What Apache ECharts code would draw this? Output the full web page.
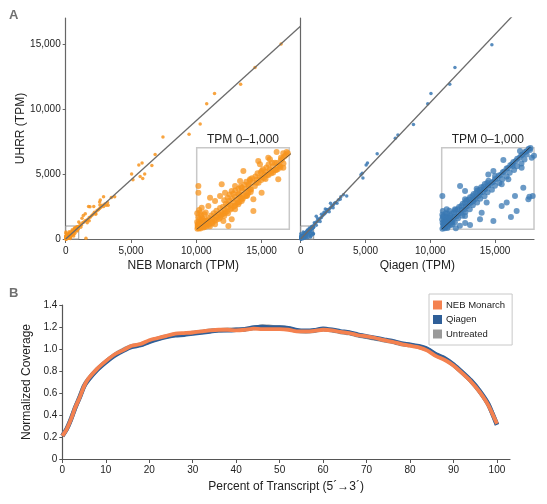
<!DOCTYPE html>
<html><head><meta charset="utf-8">
<script src="https://cdn.jsdelivr.net/npm/echarts@6/dist/echarts.min.js"></script>
<style>html,body{margin:0;padding:0;background:#fff}#c{width:547px;height:504px}</style>
</head><body><div id="c"></div>
<script>
// ---------- Panel A data (TPM) ----------
const tpmTicks = [0, 5000, 10000, 15000];
const fitSlopeMonarch = 0.91;
const fitSlopeQiagen = 1.05;
const monarchOutliers = [[16500,15000],[14500,13200],[13400,11900],[11400,11200],[10800,10400],[10300,8850],[9450,8050],[7450,7850],[6850,6500],[6600,5650],[5850,5850],[5600,5700],[6050,5000],[5700,4800],[5900,4650],[5050,5000],[5150,4550],[3750,3250],[3250,2600],[2900,3250],[2650,3000],[1750,2500],[1550,50]];
const monarchCluster = [[1100,1150],[1200,1050],[1300,1250],[1400,1300],[1500,1400],[1600,1450],[1700,1500],[1800,1650],[1900,1700],[2000,1800],[2100,1900],[2200,2050],[2300,2000],[2400,2200],[2500,2250],[2600,2350],[2700,2450],[2800,2600],[2900,2500],[3000,2700],[1250,1600],[1350,1800],[1500,1950],[2150,2500],[2600,2850],[1000,1300],[1800,1400],[2300,1900],[3200,2800],[3500,3200],[1150,900],[1650,1250],[1860,2480],[2620,2615],[3100,2600]];
const monarchLow = [[863,947],[935,931],[971,947],[910,878],[773,878],[791,857],[665,837],[683,796],[845,816],[899,776],[874,735],[935,755],[809,714],[737,673],[504,714],[701,714],[881,612],[576,612],[468,592],[647,571],[558,551],[486,510],[414,531],[270,551],[378,469],[306,449],[252,408],[450,429],[576,490],[612,367],[701,449],[540,408],[144,388],[18,531],[18,449],[198,347],[126,286],[54,265],[36,204],[342,306],[414,245],[612,224],[378,122],[288,102],[342,41],[198,61],[252,143],[306,204],[450,306],[486,347],
[22,14],[37,46],[53,27],[64,78],[83,52],[94,108],[113,81],[126,137],[143,104],[157,168],[172,133],[184,197],[206,163],[213,228],[236,192],[252,261],[267,205],[284,277],[303,243],[316,312],[334,271],[353,349],[367,296],[385,371],[404,322],[413,398],[436,362],[457,431],[472,393],[489,468],[505,421],[523,497],[546,462],[563,531],[587,489],[604,572],[628,531],[647,609],[668,571],[684,632],[707,641],[726,628],[748,702],[763,669],[787,731],[806,688],[824,771],[847,728],[866,812],[884,781],[907,842],[923,861],[946,893],[963,912],[984,933],
[12,63],[24,97],[33,126],[17,148],[43,84],[72,23],[103,34],[134,57],[163,93],[191,118],[6,197],[27,236],[47,173],[58,137],[84,183],[97,206],[124,62],[143,38],[168,74],[204,107],[223,154],[238,126],[264,173],[283,186],[297,163],[326,218],[338,196],[364,243],[377,257],[406,284],[418,296],[443,327],[461,336],[484,376],[497,374],[523,404],[544,417],[557,446],[583,457],[297,356],[334,386],[356,426],[394,437],[417,474],[452,497],[476,526],[513,546],[536,584],[574,597],[597,626],[634,646],[657,686],[693,697],[716,736],[754,757],[776,794],[813,817],[697,604],[743,617],[776,664],[826,697],[857,726],[904,757],[937,806],
[8,8],[15,30],[30,20],[45,55],[5,90],[60,40],[75,95],[95,70],[10,40],[40,10],[55,110],[85,30],[115,110],[35,65],[65,120]];
const qiagenOutliers = [[14750,14950],[11900,13200],[11500,11900],[10050,11200],[9800,10400],[8700,8800],[7500,8000],[7300,7750],[5900,6550],[5150,5850],[5050,5700],[4750,5050],[4650,4950],[4800,4700],[3550,3300],[3050,3050],[2800,2750],[2300,2750],[2000,2250],[1200,1750]];
const qiagenCluster = [[1100,1200],[1200,1300],[1300,1350],[1400,1500],[1500,1600],[1600,1650],[1700,1800],[1800,1900],[1900,2000],[2000,2100],[2100,2250],[2200,2300],[2300,2400],[2400,2550],[2500,2600],[2600,2750],[2700,2800],[2900,3000],[3100,3250],[1300,1550],[1600,1900],[1900,2300],[2500,2400],[2200,2100],[1200,1050],[1500,1350],[1000,900],[1050,1250],[3300,3400],[1800,2050]];
const qiagenLow = [[957,971],[921,918],[975,878],[848,959],[668,849],[769,776],[866,755],[560,714],[505,673],[578,653],[722,612],[650,551],[884,510],[379,498],[415,449],[199,531],[253,469],[253,367],[7,408],[986,408],[939,367],[812,224],[650,286],[433,204],[307,53],[415,122],[253,163],[144,245],[54,245],[560,102],[704,327],[794,408],[487,327],[343,347],[750,150],[950,400],
[23,28],[42,33],[63,74],[78,86],[103,106],[122,127],[138,156],[163,161],[182,196],[204,201],[217,238],[243,241],[262,279],[277,287],[304,323],[318,327],[343,364],[362,371],[377,404],[403,412],[418,449],[443,457],[462,489],[478,497],[503,534],[517,542],[543,574],[562,582],[577,614],[603,622],[618,659],[643,667],[662,698],[677,707],[703,744],[718,752],[743,784],[762,797],[777,824],[803,836],[818,864],[843,877],[862,908],[877,917],[903,948],[918,957],[943,987],[962,996],
[32,83],[48,117],[12,153],[68,143],[92,167],[108,193],[133,207],[147,234],[173,247],[188,273],[213,287],[228,314],[253,327],[268,354],[293,366],[307,394],[334,407],[347,434],[373,446],[387,474],[413,486],[428,514],[454,526],[467,554],[494,566],[507,594],[63,17],[97,53],[143,87],[177,134],[224,166],[257,213],[304,246],[337,294],[384,327],[417,374],[464,406],[497,454],[544,486],[577,534],[624,566],[657,614],[704,646],[737,694],[784,726],[817,774],[864,806],[897,854],[153,12],[197,43],[254,77],[43,197],[12,223],[7,177],[17,63],[33,12],[53,157],[83,227],[117,93],[27,107],
[8,8],[20,45],[35,25],[50,60],[5,120],[65,35],[80,110],[95,80],[10,80],[45,90],[25,160],[60,190],[90,140],[115,60]];

// ---------- Panel B data ----------
const pctTicks = [0,10,20,30,40,50,60,70,80,90,100];
const pct = [0,1,2,3,4,5,6,8,10,12,14,16,18,20,22,24,26,28,30,32,34,36,38,40,42,44,46,48,50,52,54,56,58,60,62,64,66,68,70,72,74,76,78,80,82,84,86,88,90,92,94,96,98,100];
const covMonarch = [0.21,0.27,0.36,0.47,0.56,0.66,0.73,0.82,0.89,0.95,0.99,1.03,1.045,1.08,1.10,1.12,1.14,1.145,1.15,1.16,1.17,1.175,1.175,1.17,1.175,1.185,1.18,1.18,1.18,1.175,1.16,1.16,1.165,1.175,1.17,1.155,1.145,1.125,1.115,1.10,1.08,1.065,1.045,1.03,1.015,0.985,0.935,0.90,0.85,0.78,0.705,0.61,0.49,0.32];
const covQiagen = [0.21,0.27,0.36,0.47,0.56,0.66,0.72,0.81,0.88,0.94,0.985,1.02,1.035,1.065,1.09,1.11,1.125,1.13,1.14,1.15,1.16,1.17,1.17,1.175,1.18,1.195,1.20,1.195,1.195,1.19,1.17,1.165,1.17,1.185,1.175,1.16,1.15,1.13,1.115,1.10,1.085,1.07,1.05,1.04,1.025,1.00,0.95,0.915,0.86,0.79,0.715,0.62,0.50,0.31];
const covUntreated = [0.21,0.275,0.365,0.47,0.565,0.665,0.725,0.815,0.885,0.945,0.99,1.025,1.04,1.07,1.095,1.115,1.13,1.135,1.145,1.155,1.165,1.17,1.175,1.175,1.18,1.19,1.205,1.2,1.195,1.185,1.165,1.16,1.165,1.18,1.17,1.155,1.145,1.125,1.11,1.095,1.08,1.065,1.045,1.035,1.02,0.995,0.945,0.91,0.855,0.785,0.71,0.615,0.495,0.315];

// ---------- build ----------
const ORANGE = '#F7941E', BLUE = '#3A78B3';
const FONT = '"Liberation Sans", Arial, sans-serif';
const X_MAX = 18000, Y_MAX = 17000, INSET_MAX = 1000;
const monarchAll = monarchOutliers.concat(monarchCluster, monarchLow);
const qiagenAll = qiagenOutliers.concat(qiagenCluster, qiagenLow);
const inInset = p => p[0] <= INSET_MAX && p[1] <= INSET_MAX;
const zipLine = (xs, ys) => xs.map((x, i) => [x, ys[i]]);
const fitLine = (s, xmax) => [[0, 0], [xmax, s * xmax]];
const fmtK = v => v.toLocaleString('en-US');

const axisLine = {lineStyle:{color:'#666', width:1.2}};
const labelStyle = {color:'#222', fontSize:10, fontFamily:FONT};
const nameStyle = {color:'#222', fontSize:12, fontFamily:FONT};
const hiddenAxis = (g) => ({gridIndex:g, min:0, max:INSET_MAX, show:false});
const boxArea = {silent:true, itemStyle:{color:'rgba(0,0,0,0)', borderColor:'#999', borderWidth:1}, data:[[{coord:[0,0]},{coord:[INSET_MAX,INSET_MAX]}]]};

const option = {
  animation:false,
  textStyle:{fontFamily:FONT},
  grid:[
    {left:65.7, top:18, width:235, height:221},
    {left:300.7, top:18, width:233.3, height:221},
    {left:196.7, top:147.7, width:92.6, height:81.6, show:true, borderColor:'#c8c8c8', borderWidth:1.5, backgroundColor:'#fff', z:3},
    {left:441.7, top:147.7, width:92.3, height:81.6, show:true, borderColor:'#c8c8c8', borderWidth:1.5, backgroundColor:'#fff', z:3},
    {left:62.3, top:305, width:447.7, height:154}
  ],
  xAxis:[
    {gridIndex:0, type:'value', min:0, max:X_MAX, splitLine:{show:false}, axisLine,
     axisTick:{customValues:tpmTicks, length:4, lineStyle:{color:'#666'}},
     axisLabel:Object.assign({customValues:tpmTicks, margin:7, formatter:fmtK}, labelStyle),
     name:'NEB Monarch (TPM)', nameLocation:'middle', nameGap:21, nameTextStyle:nameStyle},
    {gridIndex:1, type:'value', min:0, max:X_MAX, splitLine:{show:false}, axisLine,
     axisTick:{customValues:tpmTicks, length:4, lineStyle:{color:'#666'}},
     axisLabel:Object.assign({customValues:tpmTicks, margin:7, formatter:fmtK}, labelStyle),
     name:'Qiagen (TPM)', nameLocation:'middle', nameGap:21, nameTextStyle:nameStyle},
    hiddenAxis(2), hiddenAxis(3),
    {gridIndex:4, type:'value', min:0, max:103, splitLine:{show:false}, axisLine:{lineStyle:{color:'#555', width:1.2}},
     axisTick:{customValues:pctTicks, length:4, lineStyle:{color:'#555'}},
     axisLabel:Object.assign({customValues:pctTicks, margin:6}, labelStyle),
     name:'Percent of Transcript (5´→3´)', nameLocation:'middle', nameGap:22, nameTextStyle:nameStyle}
  ],
  yAxis:[
    {gridIndex:0, type:'value', min:0, max:Y_MAX, splitLine:{show:false}, axisLine:Object.assign({show:true}, axisLine),
     axisTick:{show:true, customValues:tpmTicks, length:3, lineStyle:{color:'#666'}},
     axisLabel:Object.assign({customValues:tpmTicks, margin:5, formatter:fmtK}, labelStyle),
     name:'UHRR (TPM)', nameLocation:'middle', nameGap:36, nameTextStyle:nameStyle},
    {gridIndex:1, type:'value', min:0, max:Y_MAX, splitLine:{show:false}, axisLine:Object.assign({show:true}, axisLine),
     axisTick:{show:false}, axisLabel:{show:false}},
    hiddenAxis(2), hiddenAxis(3),
    {gridIndex:4, type:'value', min:0, max:1.4, interval:0.2, splitLine:{show:false}, axisLine:{show:true, lineStyle:{color:'#555', width:1.2}},
     axisTick:{show:true, length:3, lineStyle:{color:'#555'}},
     axisLabel:Object.assign({margin:5, formatter:v => v === 0 ? '0' : v.toFixed(1)}, labelStyle),
     name:'Normalized Coverage', nameLocation:'middle', nameGap:28, nameTextStyle:nameStyle}
  ],
  legend:{
    data:['NEB Monarch','Qiagen','Untreated'], orient:'vertical', left:429, top:294,
    icon:'rect', itemWidth:9, itemHeight:9, itemGap:4.5, padding:[6,7,6,4],
    borderColor:'#c8c8c8', borderWidth:1, textStyle:{fontSize:9.5, color:'#222', fontFamily:FONT, padding:[0,0,0,-1]}
  },
  graphic:[
    {type:'text', left:9, top:9, style:{text:'A', font:'bold 13px '+FONT, fill:'#707070'}},
    {type:'text', left:9, top:287, style:{text:'B', font:'bold 13px '+FONT, fill:'#707070'}},
    {type:'text', x:243, y:140, style:{text:'TPM 0–1,000', font:'12px '+FONT, fill:'#222', align:'center', verticalAlign:'middle'}},
    {type:'text', x:487.8, y:140, style:{text:'TPM 0–1,000', font:'12px '+FONT, fill:'#222', align:'center', verticalAlign:'middle'}}
  ],
  series:[
    {type:'scatter', xAxisIndex:0, yAxisIndex:0, data:monarchAll, symbolSize:3.5, itemStyle:{color:ORANGE, opacity:0.85}, markArea:boxArea, z:2},
    {type:'line', xAxisIndex:0, yAxisIndex:0, data:fitLine(fitSlopeMonarch, X_MAX), showSymbol:false, lineStyle:{color:'#6b6b6b', width:1.3}, z:3},
    {type:'scatter', xAxisIndex:1, yAxisIndex:1, data:qiagenAll, symbolSize:3.5, itemStyle:{color:BLUE, opacity:0.85}, markArea:boxArea, z:2},
    {type:'line', xAxisIndex:1, yAxisIndex:1, data:fitLine(fitSlopeQiagen, X_MAX), showSymbol:false, lineStyle:{color:'#6b6b6b', width:1.3}, z:3},
    {type:'scatter', xAxisIndex:2, yAxisIndex:2, data:monarchAll.filter(inInset), symbolSize:6, itemStyle:{color:ORANGE, opacity:0.75}, z:4},
    {type:'line', xAxisIndex:2, yAxisIndex:2, data:fitLine(fitSlopeMonarch, INSET_MAX * 1.2), showSymbol:false, lineStyle:{color:'rgba(60,60,60,0.75)', width:1}, z:5},
    {type:'scatter', xAxisIndex:3, yAxisIndex:3, data:qiagenAll.filter(inInset), symbolSize:6, itemStyle:{color:BLUE, opacity:0.75}, z:4},
    {type:'line', xAxisIndex:3, yAxisIndex:3, data:fitLine(fitSlopeQiagen, INSET_MAX * 1.2), showSymbol:false, lineStyle:{color:'rgba(40,40,40,0.8)', width:1}, z:5},
    {name:'Untreated', type:'line', xAxisIndex:4, yAxisIndex:4, data:zipLine(pct, covUntreated), showSymbol:false, smooth:0.2, lineStyle:{color:'#9a9a9a', width:4.5}, itemStyle:{color:'#9a9a9a'}, z:2},
    {name:'Qiagen', type:'line', xAxisIndex:4, yAxisIndex:4, data:zipLine(pct, covQiagen), showSymbol:false, smooth:0.2, lineStyle:{color:'#2f5f98', width:4.5}, itemStyle:{color:'#2f5f98'}, z:3},
    {name:'NEB Monarch', type:'line', xAxisIndex:4, yAxisIndex:4, data:zipLine(pct, covMonarch), showSymbol:false, smooth:0.2, lineStyle:{color:'#F4814F', width:3.8}, itemStyle:{color:'#F4814F'}, z:4}
  ]
};
const chart = echarts.init(document.getElementById('c'), null, {renderer:'canvas'});
chart.setOption(option);
</script></body></html>
